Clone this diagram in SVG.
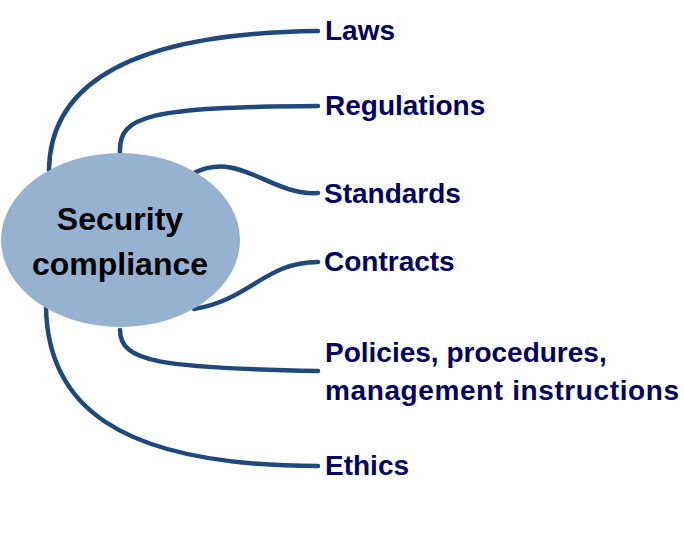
<svg xmlns="http://www.w3.org/2000/svg" width="684" height="534" viewBox="0 0 684 534">
<style>
.conn{fill:none;stroke:#1f497d;stroke-width:4.5;stroke-linecap:round}
.lbl{font-family:"Liberation Sans",Arial,sans-serif;font-weight:bold;font-size:28px;fill:#000066}
.ctr{font-family:"Liberation Sans",Arial,sans-serif;font-weight:bold;font-size:32px;fill:#000000;text-anchor:middle}
</style>
<rect width="684" height="534" fill="#ffffff"/>
<g id="connectors">
<path class="conn" d="M49,170 C50,85 130,33 318,31"/>
<path class="conn" d="M120,153 C118,115 150,107 318,106"/>
<path class="conn" d="M194,173 C240,150 270,196 318,193"/>
<path class="conn" d="M194,309 C250,300 265,262 318,262"/>
<path class="conn" d="M120,330 C120,362 160,368 318,371"/>
<path class="conn" d="M46,308 C48,400 110,466 318,466"/>
</g>
<g id="center">
<ellipse cx="120.5" cy="240" rx="119.5" ry="87" fill="#97b2d1"/>
<text class="ctr" x="120" y="230">Security</text>
<text class="ctr" x="120" y="275">compliance</text>
</g>
<g id="laws"><text class="lbl" x="325" y="40">Laws</text></g>
<g id="regulations"><text class="lbl" x="325" y="115">Regulations</text></g>
<g id="standards"><text class="lbl" x="324" y="203">Standards</text></g>
<g id="contracts"><text class="lbl" x="324" y="271">Contracts</text></g>
<g id="policies"><text class="lbl" x="325" y="362">Policies, procedures,</text><text class="lbl" x="325" y="400" textLength="354" lengthAdjust="spacing">management instructions</text></g>
<g id="ethics"><text class="lbl" x="325" y="475">Ethics</text></g>
</svg>
